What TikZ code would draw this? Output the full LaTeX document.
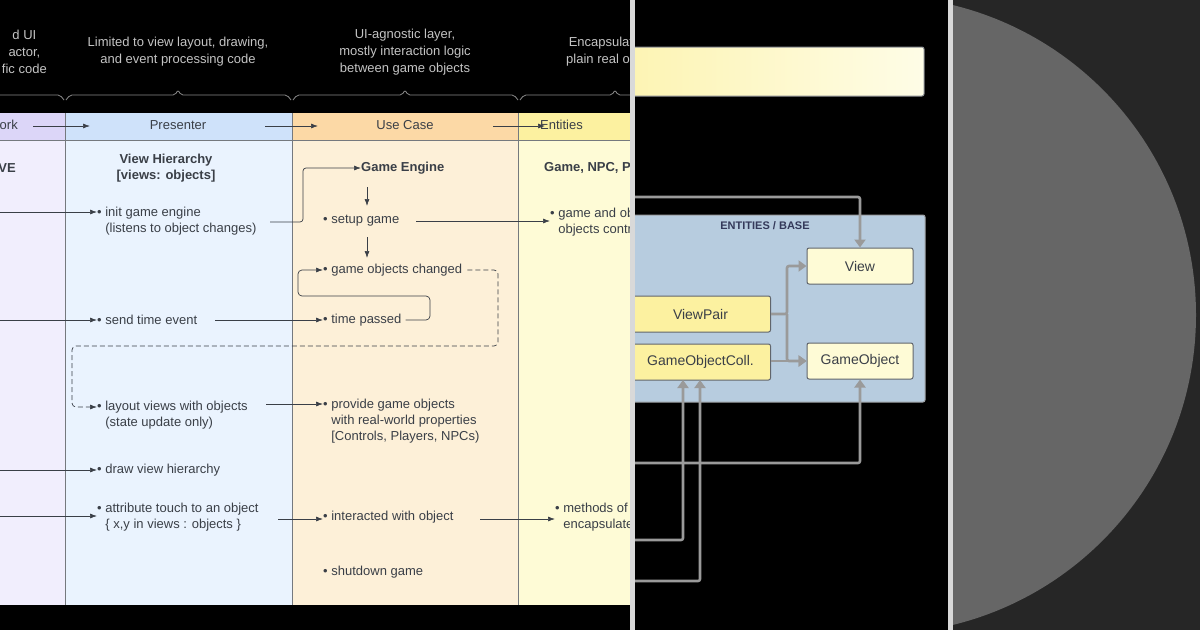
\documentclass[tikz,border=0pt]{standalone}
\usepackage{fontspec}
\setmainfont{Liberation Sans}
\usetikzlibrary{arrows.meta}
\definecolor{ink}{HTML}{3A3F47}
\definecolor{capt}{HTML}{C4C4C4}
\definecolor{hA}{HTML}{DCD6F8}\definecolor{bA}{HTML}{F1EEFD}
\definecolor{hB}{HTML}{CFE2FA}\definecolor{bB}{HTML}{EAF3FE}
\definecolor{hC}{HTML}{FCD9A6}\definecolor{bC}{HTML}{FDF0D8}
\definecolor{hD}{HTML}{FCF1A0}\definecolor{bD}{HTML}{FEFBD6}
\definecolor{arr}{HTML}{9A9A9A}
\definecolor{blu}{HTML}{B7CCDF}
\begin{document}
\begin{tikzpicture}[x=1pt,y=-1pt,
  txt/.style={inner sep=0pt,font=\fontsize{13}{16}\selectfont,text=ink},
  lt/.style={txt,anchor=west,align=left},
  bold/.style={txt,font=\fontsize{13}{16}\selectfont\bfseries},
  captxt/.style={inner sep=0pt,font=\fontsize{13}{17}\selectfont,text=capt,align=center},
  ar/.style={draw=ink,line width=0.7pt,-{Latex[length=7pt,width=5pt]}},
  gar/.style={draw=arr,line width=2.6pt,rounded corners=2pt,-{Triangle[length=8pt,width=11pt]}},
  box/.style={draw=ink!80,line width=1pt,rounded corners=2pt,inner sep=0pt,font=\fontsize{14}{16}\selectfont,text=ink}]
\useasboundingbox (0,0) rectangle (1200,630);
\fill[black] (0,0) rectangle (1200,630);
% ---------- panel 1
\begin{scope}
\clip (0,0) rectangle (630,630);
\fill[hA] (0,113) rectangle (65,140);\fill[bA] (0,140) rectangle (65,605);
\fill[hB] (65,113) rectangle (292,140);\fill[bB] (65,140) rectangle (292,605);
\fill[hC] (292,113) rectangle (518,140);\fill[bC] (292,140) rectangle (518,605);
\fill[hD] (518,113) rectangle (640,140);\fill[bD] (518,140) rectangle (640,605);
\draw[ink!70,line width=0.6pt] (0,140)--(640,140) (65,113)--(65,605) (292,113)--(292,605) (518,113)--(518,605);
% braces
\draw[capt!70!black,line width=0.8pt,rounded corners=2pt]
 (0,95)--(60,95)--(64,100) (66,100)--(70,95)--(175,95)--(178,90)--(181,95)--(287,95)--(291,100)
 (293,100)--(297,95)--(402,95)--(405,90)--(408,95)--(514,95)--(518,100)
 (520,100)--(524,95)--(612,95)--(615,90)--(618,95)--(640,95);
\node[captxt,anchor=east] (c1) at (47,52) {d UI\\actor,\\fic code};
\node[captxt] (c2) at (178,52) {Limited to view layout, drawing,\\and event processing code};
\node[captxt] (c3) at (405,52) {UI-agnostic layer,\\mostly interaction logic\\between game objects};
\node[captxt] (c4) at (615,52) {Encapsulated in\\plain real objects};
% headers
\node[txt,anchor=east] (h1) at (18,125) {Framework};
\node[txt] (h2) at (178,125) {Presenter};
\node[txt] (h3) at (405,125) {Use Case};
\node[txt,anchor=west] (h4) at (540,125) {Entities};
\coordinate (a1) at (33,126);\coordinate (a2) at (265,126);\coordinate (a3) at (493,126);
\coordinate (b1) at (90,126);\coordinate (b2) at (318,126);\coordinate (b3) at (545,126);
\draw[ar] (a1)--(b1); \draw[ar] (a2)--(b2); \draw[ar] (a3)--(b3);
% column titles
\node[bold,anchor=east] (t1) at (16,168) {VE};
\node[bold,align=center] (t2) at (166,168) {View Hierarchy\\{[}views: objects{]}};
\node[bold,anchor=west] (t3) at (361,168) {Game Engine};
\node[bold,anchor=west] (t4) at (544,168) {Game, NPC, Player};
% presenter items
\node[lt] (p1) at (97,221) {• init game engine\\\hphantom{• }(listens to object changes)};
\node[lt] (p2) at (97,320) {• send time event};
\node[lt] (p3) at (97,415) {• layout views with objects\\\hphantom{• }(state update only)};
\node[lt] (p4) at (97,470) {• draw view hierarchy};
\node[lt] (p5) at (97,517) {• attribute touch to an object\\\hphantom{• }\{ x,y in views : objects \}};
% use case items
\node[lt] (u1) at (323,221) {• setup game};
\node[lt] (u2) at (323,270) {• game objects changed};
\node[lt] (u3) at (323,320) {• time passed};
\node[lt] (u4) at (323,421) {• provide game objects\\\hphantom{• }with real-world properties\\\hphantom{• }[Controls, Players, NPCs)};
\node[lt] (u5) at (323,517) {• interacted with object};
\node[lt] (u6) at (323,572) {• shutdown game};
% entity items
\node[lt] (e1) at (550,222) {• game and objects\\\hphantom{• }objects controllers};
\node[lt] (e2) at (555,517) {• methods of objects\\\hphantom{• }encapsulated};
% left-side arrows
\draw[ar] (0,212)--(p1.west|-0,212);
\draw[ar] (0,320)--(p2.west);
\draw[ar] (0,470)--(p4.west);
\draw[ar] (0,516)--(p5.west|-0,516);
% flow arrows
\draw[ar,rounded corners=3pt] (270,222)--(303,222)--(303,168)--(t3.west);
\draw[ar] (367,187)--(367,206);
\draw[ar] (367,237)--(367,258);
\draw[ar] (416,221)--(e1.west|-0,221);
\draw[ar] (215,320)--(u3.west);
\draw[ar,rounded corners=4pt] ([xshift=4pt]u3.east)--(430,320)--(430,296)--(298,296)--(298,270)--(u2.west);
\draw[ar,dash pattern=on 5pt off 3pt,rounded corners=4pt] ([xshift=5pt]u2.east)--(498,270)--(498,346)--(72,346)--(72,407)--(p3.west|-0,407);
\draw[ar] (266,404)--(u4.west|-0,404);
\draw[ar] (278,519)--(u5.west|-0,519);
\draw[ar] (480,519)--(e2.west|-0,519);
\end{scope}
% separators
\fill[white!85!black] (630,0) rectangle (635,630);
\fill[white!85!black] (948,0) rectangle (953,630);
% ---------- panel 2
\begin{scope}
\clip (635,0) rectangle (948,630);
\shade[left color=hD!85!white,right color=bD!60!white,draw=ink!60,line width=1pt,rounded corners=2pt] (600,47) rectangle (924,96);
\filldraw[fill=blu,draw=ink!50,line width=1pt,rounded corners=2pt] (600,215) rectangle (925,402);
\node[font=\fontsize{11}{13}\selectfont\bfseries,text=ink!90!blue] (eb) at (765,226) {ENTITIES / BASE};
\node[box,fill=bD,minimum width=106pt,minimum height=36pt] (view) at (860,266) {View};
\node[box,fill=bD,minimum width=106pt,minimum height=36pt] (gobj) at (860,361) {GameObject};
\node[box,fill=hD,minimum width=160pt,minimum height=36pt,anchor=east] (vp) at (771,314) {\hspace*{20pt}ViewPair};
\node[box,fill=hD,minimum width=160pt,minimum height=36pt,anchor=east] (goc) at (771,362) {\hspace*{20pt}GameObjectColl.};
\draw[gar] (635,197)--(860,197)--(view.north);
\draw[gar] (vp.east)--(787,314)--(787,266)--(view.west);
\draw[gar] (787,314)--(787,361)--(gobj.west);
\draw[gar] (goc.east|-0,361)--(gobj.west);
\draw[gar] (635,463)--(860,463)--(gobj.south);
\draw[gar] (635,540)--(683,540)--(683,380);
\draw[gar] (635,581)--(700,581)--(700,380);
\end{scope}
% ---------- panel 3
\begin{scope}
\clip (953,0) rectangle (1200,630);
\fill[black!85] (953,0) rectangle (1200,630);
\fill[black!60] (877,315) circle (319);
\end{scope}
\end{tikzpicture}
\end{document}
